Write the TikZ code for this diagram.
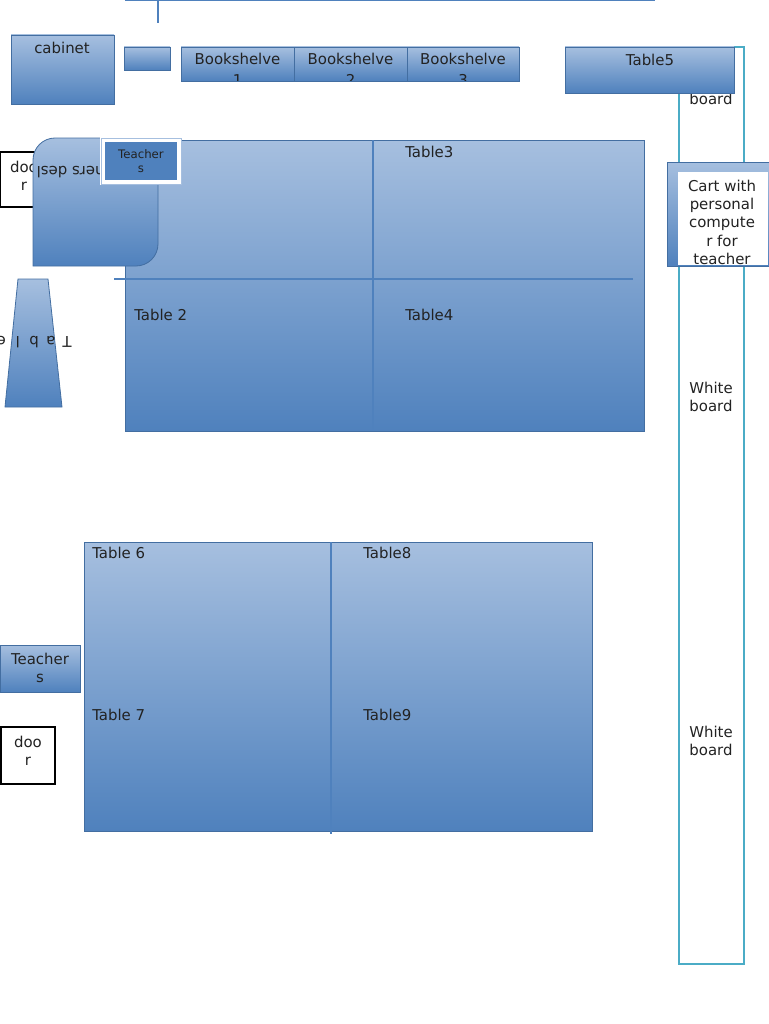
\documentclass[tikz,border=0pt]{standalone}
\usepackage{fontspec}
\setmainfont{DejaVu Sans}
\definecolor{bdark}{HTML}{4F81BD}
\definecolor{blight}{HTML}{A6BFDF}
\definecolor{wb}{HTML}{4BACC6}
\definecolor{txt}{HTML}{222222}
\begin{document}
\begin{tikzpicture}[x=0.75pt,y=-0.75pt,
  furn/.style={draw=bdark!85!black, line width=0.6pt, top color=blight, bottom color=bdark},
  lbl/.style={font=\fontsize{11.2}{13.6}\selectfont, text=txt, align=center, inner sep=0pt},
  lblt/.style={lbl, anchor=north west},
  doorbox/.style={draw=black, line width=2.2pt, fill=white},
  sep/.style={draw=bdark, line width=1.2pt}]
\useasboundingbox (0,0) rectangle (768,1024);
% top lines
\coordinate (tl1) at (125,0); \coordinate (tl2) at (655,0);
\coordinate (tv1) at (158,0); \coordinate (tv2) at (158,23);
\draw[sep] (tl1) -- (tl2);
\draw[sep] (tv1) -- (tv2);
% whiteboard
\draw[wb, line width=2.2pt] (679,47) rectangle (744,964);
\node[lbl] (wb1) at (711,90) {White\\board};
\node[lbl] (wb2) at (711,397) {White\\board};
\node[lbl] (wb3) at (711,741) {White\\board};
% cabinet
\draw[furn] (11,35) rectangle (114,104);
\node[lbl] (cab) at (62,48) {cabinet};
\draw[furn] (124,47) rectangle (170,70);
% bookshelves
\foreach \a/\b/\n in {181/294/1,294/407/2,407/519/3}{
  \draw[furn] (\a,47) rectangle (\b,81);
  \begin{scope}\clip (\a,47) rectangle (\b,81);
  \node[lbl, anchor=north] (bs\n) at ({(\a+\b)/2},53) {Bookshelve\\[2pt]\n};
  \end{scope}}
% table5
\draw[furn] (565,47) rectangle (734,93);
\node[lbl] (t5) at (650,60) {Table5};
% cart
\draw[furn] (667,162) rectangle (770,266);
\fill[white] (678,172) rectangle (768,265);
\begin{scope}\clip (678,172) rectangle (768,265);
\node[lbl, anchor=north, font=\fontsize{11.2}{13.6}\selectfont] (cart) at (722,180) {Cart with\\personal\\compute\\r for\\teacher};
\end{scope}
% big block 1
\draw[furn] (125,140) rectangle (644,431);
\draw[sep] (373,140) -- (373,431);
\draw[sep] (114,279) -- (633,279);
\node[lblt] (t3) at (405,146) {Table3};
\node[lblt] (t2) at (134,309) {Table 2};
\node[lblt] (t4) at (405,309) {Table4};
% door top
\draw[doorbox] (0,152) rectangle (40,207);
\begin{scope}\clip (0,152) rectangle (33,207);
\node[lbl] (d1) at (24,176) {doo\\r};
\end{scope}
% teachers desk
\draw[furn] (33,266) -- (33,160) arc[start angle=180,end angle=270,radius=22] -- (158,138) -- (158,244) arc[start angle=0,end angle=90,radius=22] -- cycle;
\begin{scope}\clip (38,138) rectangle (158,266);
\node[lbl, rotate=180, anchor=west] (tdesk) at (138,172) {Teachers desk};
\end{scope}
% teachers small box
\draw[white, line width=1pt, fill=white] (101,138) rectangle (181,184);
\draw[draw=blight, line width=0.5pt] (101,138) rectangle (181,184);
\fill[bdark] (105,142) rectangle (177,180);
\node[lbl, font=\fontsize{8.8}{10.5}\selectfont] (ts1) at (141,161) {Teacher\\s};
% trapezoid
\draw[furn] (18,279) -- (48,279) -- (62,407) -- (5,407) -- cycle;
\node[lbl, rotate=180, anchor=west] (trap) at (72,342) {T\, a\, b\, \,l\,\, e};
% block 2
\draw[furn] (84,542) rectangle (592,831);
\draw[sep] (331,542) -- (331,834);
\node[lblt] (t6) at (92,547) {Table 6};
\node[lblt] (t8) at (363,547) {Table8};
\node[lblt] (t7) at (92,709) {Table 7};
\node[lblt] (t9) at (363,709) {Table9};
% teachers bottom
\draw[furn] (0,645) rectangle (80,692);
\node[lbl] (ts2) at (40,668) {Teacher\\s};
% door bottom
\draw[doorbox] (1,727) rectangle (55,784);
\node[lbl] (d2) at (28,751) {doo\\r};
\end{tikzpicture}
\end{document}
